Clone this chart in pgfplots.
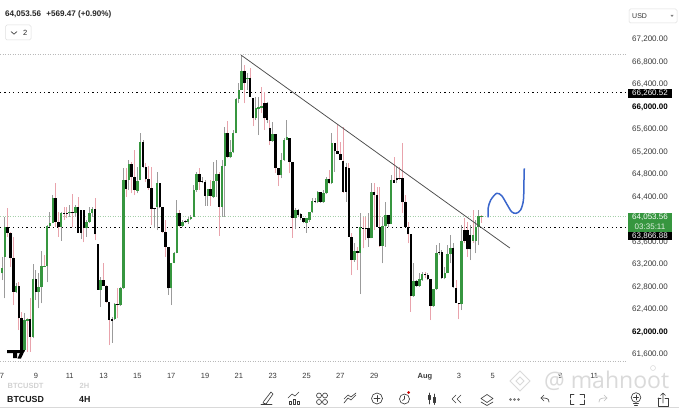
\documentclass[border=0pt]{standalone}
\usepackage{pgfplots}
\usepackage{pgfplotstable}
\usepackage{fontspec}
\setmainfont{Liberation Sans}
\newfontfamily\wmfont{Open Sans}
\pgfplotsset{compat=1.18}
\definecolor{cgreen}{HTML}{36963F}
\definecolor{cpink}{HTML}{E9A3AC}
\definecolor{cgray}{HTML}{9B9B9B}
\definecolor{tickc}{HTML}{3A3A3A}
\definecolor{wm}{HTML}{DADADA}
\definecolor{ic}{HTML}{3C3C3C}
% green candles, grey wicks
\pgfplotstableread{
x o h l c
0 63043 63339 62924 63132
1 63339 64050 62598 63872
5 62717 62865 62687 62818
8 61680 62332 61650 62213
11 61917 63209 61887 62942
13 62717 63043 62421 62794
14 62794 63446 62509 63173
16 63173 63902 62883 63884
17 63884 64139 63872 63943
18 63943 64435 63932 64376
21 63872 64139 63618 64109
24 64115 64258 64050 64127
26 64121 64258 64050 64228
30 63843 63991 63695 63961
31 63961 64228 63932 64121
32 64121 64228 64050 64181
35 62747 62983 62450 62924
40 62225 62509 62213 62492
42 62480 62806 62462 62776
43 62776 64909 62758 64702
45 64702 65058 64524 64986
48 64512 64939 64465 64690
49 64702 65532 64702 65372
55 64216 64838 63813 64643
60 62776 63232 62480 63232
61 63232 63428 63221 63398
62 63398 64347 63398 64109
64 63890 63991 63872 63961
66 63961 64038 63920 64003
67 64003 64080 63991 64050
68 64050 64613 64050 64524
69 64524 64850 64495 64803
73 64418 64536 64246 64536
75 64406 65028 64376 64690
76 64690 65058 64406 64809
78 64228 65058 64050 64951
79 64951 65638 64050 65544
81 65105 65413 65087 65206
82 65206 65591 65176 65532
83 65532 66154 65532 66136
84 66136 66421 66065 66302
85 66302 66924 66302 66646
87 66492 66598 66302 66521
90 65798 66184 65769 65976
91 65964 66184 65502 66006
96 65395 65739 65384 65514
99 64791 65176 64732 65058
100 65058 65443 65040 65413
101 65413 65769 65413 65461
104 64032 64198 63825 64169
108 63943 64021 63766 64021
109 63991 64139 63961 64127
110 64127 64376 64109 64335
112 64317 64512 64287 64495
114 64305 64524 64299 64465
115 64465 64761 64453 64714
117 64643 65532 64631 65354
125 63280 63576 63250 63440
127 63410 64109 62675 63861
131 63665 64643 63665 64483
135 63529 64050 63221 63884
136 63884 64317 63517 64080
138 63920 64791 63920 64702
146 62640 63232 62628 62912
148 62818 63043 62806 62936
149 62924 63072 62912 63025
153 62462 62770 62450 62770
154 62758 63546 62747 63398
157 62954 63161 62936 63043
158 63043 63546 63043 63380
159 63380 63724 63221 63499
163 62492 63902 62391 63624
168 63624 63991 63398 63872
169 63861 64169 63546 64062
}\GG
% green candles, pink wicks
\pgfplotstableread{
x o h l c
9 62201 62243 61650 62225
15 63161 63369 63161 63179
92 65976 66361 65887 66024
167 63624 64169 63576 63724
170 64040 64080 63944 64053.56
}\GP
% black candles, grey wicks
\pgfplotstableread{
x o h l c
12 62942 63102 62569 62717
28 64169 64169 63653 63766
34 63564 63564 62747 62747
39 62225 62272 61810 62201
50 65372 65413 64909 64939
54 64198 64198 63843 64187
56 64643 64643 64198 64216
59 63517 63517 62658 62776
65 63973 63991 63932 63955
71 64684 64761 64643 64667
72 64672 64702 64246 64418
94 66077 66095 65710 65769
105 64169 64181 64050 64080
106 64092 64109 63991 64021
107 64021 64032 63932 63961
111 64329 64376 64287 64317
113 64495 64495 64299 64317
118 65354 65354 64850 65224
122 64927 64998 64317 64495
130 63843 64109 63517 63665
137 64080 64080 63872 63920
140 64732 64939 64643 64702
147 62912 62924 62794 62818
151 63013 63043 62924 62942
155 63416 63576 63369 63398
156 63428 63458 62948 62966
160 63499 63576 62776 62794
166 63724 63902 63280 63469
}\DG
% black candles, pink wicks
\pgfplotstableread{
x o h l c
2 63861 64198 63695 63766
3 63766 63784 63161 63309
4 63309 63695 62480 62717
6 62824 62895 62035 62243
7 62243 62361 61650 61680
10 62225 62598 61650 61917
19 64376 64643 63872 63961
20 63961 64139 63695 63872
22 64109 64228 63991 64097
23 64121 64228 64021 64097
25 64127 64447 63872 64109
27 64228 64394 63754 63766
29 64169 64169 63594 63843
33 64181 64376 63635 63736
36 62924 63221 62818 62818
37 62818 62835 62509 62539
38 62539 62539 61769 62213
41 62492 62776 62243 62480
44 64702 64909 64406 64536
46 64986 65028 64465 64750
47 64750 65235 64435 64524
51 64939 65010 64672 64714
52 64714 64951 64524 64566
53 64566 64939 63902 64187
57 64216 64216 63766 63784
58 63784 63991 63339 63517
63 64109 64169 63872 63890
70 64803 64921 64524 64672
74 64536 64702 64246 64418
77 64809 64850 63712 64228
80 65544 65757 65087 65117
86 66646 66747 66065 66421
88 66510 66699 66172 66184
89 66154 66154 65662 65798
93 66077 66272 65591 65798
95 65621 65769 65324 65395
97 65514 65514 64821 64921
98 64909 64909 64595 64791
102 65455 65455 64821 65028
103 65016 65028 63677 64033
116 64714 64880 64631 64643
119 65224 65680 65164 65164
120 65164 65384 65058 65058
121 65046 65650 64477 64495
123 64921 64998 63695 63695
124 63695 63754 63013 63280
126 63440 63517 63102 63410
128 63855 64050 63487 63837
129 63855 64050 63635 63825
132 64483 64643 63813 64435
133 64435 64584 63861 63872
134 63872 64584 63517 63529
139 64702 65105 64643 64655
141 64744 64939 64702 64732
142 64732 65354 64109 64305
143 64305 64435 63872 63872
144 63872 63961 63576 63736
145 63736 63736 62361 62640
150 63025 63072 62954 63007
152 62942 62942 62213 62462
161 62776 62924 62509 62521
162 62521 62521 62225 62492
164 63813 64021 63576 63618
165 63813 63961 63339 63469
}\DP
\newcommand{\wick}[2]{\addplot[draw=none,mark=none,forget plot,error bars/.cd,y dir=plus,y explicit,error mark=none,error bar style={line width=0.9pt,color=#2}] table[x=x,y=l,y error plus expr=\thisrow{h}-\thisrow{l}] {#1};}
\newcommand{\bodyup}[1]{\addplot[draw=none,mark=none,forget plot,error bars/.cd,y dir=plus,y explicit,error mark=none,error bar style={line width=2.5pt,color=cgreen}] table[x=x,y=o,y error plus expr=\thisrow{c}-\thisrow{o}] {#1};}
\newcommand{\bodydn}[1]{\addplot[draw=none,mark=none,forget plot,error bars/.cd,y dir=plus,y explicit,error mark=none,error bar style={line width=2.5pt,color=black}] table[x=x,y=c,y error plus expr=\thisrow{o}-\thisrow{c}] {#1};}
\begin{document}
\begin{tikzpicture}[x=1pt,y=1pt]
\useasboundingbox (0,0) rectangle (679,408);
\fill[white] (0,0) rectangle (679,408);
\begin{axis}[
  at={(0pt,46pt)},anchor=south west,scale only axis,width=627pt,height=334pt,
  xmin=-0.709,xmax=221.63,ymin=61466.7,ymax=67404.6,
  axis line style={draw=none},major tick length=0pt,
  ytick={61600,62400,62800,63200,63600,64000,64400,64800,65200,65600,66400,66800,67200},
  extra y ticks={62000,66000},
  extra y tick style={yticklabel style={font=\fontsize{8}{9}\selectfont\bfseries,text=black}},
  yticklabel pos=right,scaled y ticks=false,
  /pgf/number format/fixed,/pgf/number format/fixed zerofill,/pgf/number format/precision=2,
  /pgf/number format/1000 sep={,},/pgf/number format/assume math mode=true,
  yticklabel style={anchor=west,xshift=3pt,inner xsep=2pt,font=\fontsize{8}{9}\selectfont,text=tickc},
  xtick={0,12,24,36,48,60,72,84,96,108,120,132,150,162,174,198,210},
  xticklabels={7,9,11,13,15,17,19,21,23,25,27,29,\textbf{Aug},3,5,9,11},
  xticklabel style={font=\fontsize{7.5}{8}\selectfont,text=tickc,yshift=-7.5pt},
]
\addplot[gray!55,line width=0.5pt,dotted,forget plot] coordinates {(-0.709,66930) (221.63,66930)};
\addplot[gray!55,line width=0.5pt,dotted,forget plot] coordinates {(-0.709,61480) (221.63,61480)};
\addplot[cgreen!45,line width=0.5pt,dotted,forget plot] coordinates {(-0.709,64053.56) (221.63,64053.56)};
\addplot[black,line width=0.9pt,dash pattern=on 1.1pt off 3.3pt,forget plot] coordinates {(-0.709,66260.52) (221.63,66260.52)};
\addplot[black,line width=0.9pt,dash pattern=on 1.1pt off 3.3pt,forget plot] coordinates {(-0.709,63866.88) (221.63,63866.88)};
\wick{\GG}{cgray}
\wick{\DG}{cgray}
\wick{\GP}{cpink}
\wick{\DP}{cpink}
\bodyup{\GG}
\bodyup{\GP}
\bodydn{\DG}
\bodydn{\DP}
\addplot[black!70,line width=0.75pt,forget plot] coordinates {(84.75,66924) (180.1,63493)};
\addplot[color={rgb,255:red,58;green,102;blue,204},line width=1.5pt,smooth,forget plot] coordinates {
(172.4,64039) (172.4,64204) (173.3,64346) (175.4,64466) (177.2,64423) (179.0,64275)
(180.7,64138) (182.3,64110) (183.9,64169) (184.9,64346) (185.1,64702) (185.2,64910)};
\end{axis}
% price tags
\def\tagfont{\fontsize{8}{9}\selectfont}
\fill[black] (628,310) rectangle (672,319.5);
\node[white,font=\tagfont] at (650,314.7) {66,260.52};
\fill[cgreen] (628,176.5) rectangle (672,195);
\node[white,font=\tagfont] at (650,190.3) {64,053.56};
\node[white!85!cgreen,font=\tagfont] at (650,181) {03:35:11};
\fill[black] (628,168) rectangle (672,176.5);
\node[white,font=\tagfont] at (650,172.2) {63,866.88};
% USD box
\draw[gray!25,line width=0.5pt,rounded corners=1.5pt] (629,385) rectangle (677,399);
\node[anchor=west,inner sep=0,text=black!80,font=\fontsize{7}{8}\selectfont] at (632,392) {USD};
\fill[gray] (670.5,393) -- (673.5,393) -- (672,391) -- cycle;
% header
\node[anchor=west,inner sep=0,text=black!85,font=\fontsize{8.1}{9}\selectfont\bfseries] at (5,393.7) {64,053.56\hspace{3pt} +569.47 (+0.90\%)};
\draw[gray!25,line width=0.5pt,rounded corners=1.5pt] (5.5,368) rectangle (31,383);
\draw[black!80,line width=0.6pt] (11,376.5) -- (14,373.8) -- (17,376.5);
\node[anchor=west,inner sep=0,text=black!85,font=\fontsize{7.5}{8}\selectfont] at (23,375.2) {2};
% TV logo
\fill[black] (7,58) -- (17,58) -- (17,50) -- (13.2,50) -- (13.2,55) -- (7,55) -- cycle;
\fill[black] (16.5,58) -- (25,58) -- (21,49.5) -- (17.5,49.5) -- (20,55) -- (16.5,55) -- cycle;
% watermark
\begin{scope}[wm,line width=1pt]
\draw (520,37) -- (530,27) -- (520,17) -- (510,27) -- cycle;
\draw (520,31) -- (524,27) -- (520,23) -- (516,27) -- cycle;
\end{scope}
\node[anchor=west,inner sep=0,text=wm,font=\wmfont\fontsize{23}{24}\selectfont] at (544,27) {@ mahnoot};
\draw[wm,line width=0.5pt] (653,40) circle (2.5);
% bottom bar
\node[anchor=west,inner sep=0,text=gray!35,font=\fontsize{7.5}{8}\selectfont\bfseries] at (7.5,22.3) {BTCUSDT};
\node[anchor=west,inner sep=0,text=gray!35,font=\fontsize{7.5}{8}\selectfont\bfseries] at (79.5,22.3) {2H};
\node[anchor=west,inner sep=0,text=black!90,font=\fontsize{8.8}{9}\selectfont\bfseries] at (7,9) {BTCUSD};
\node[anchor=west,inner sep=0,text=black!90,font=\fontsize{8.8}{9}\selectfont\bfseries] at (79,9) {4H};
\fill[gray!30] (0,0) rectangle (679,0.8);
% toolbar icons
\begin{scope}[ic,line width=0.65pt,line cap=round,line join=round]
\draw (263,5) -- (266,4) -- (273,14) -- (271,16) -- (264,7) -- cycle; \draw (261,3.5) -- (272,3.5);
\draw (289,4) rectangle (291,7) (293,4) rectangle (295,9) (297,4) rectangle (299,7); \draw (288,10) -- (292,14) -- (295,12) -- (299,16);
\draw (319,12.5) circle (2.5) (325,12.5) circle (2.5) (319,6) circle (2.5) (325,6) circle (2.5);
\draw (344,5) -- (348,10) -- (351,8) -- (356,13) (344,9) -- (348,13) -- (351,11) -- (356,15);
\draw (377,9.5) circle (5.5); \draw (374,9.5) -- (380,9.5) (377,6.5) -- (377,12.5);
\draw (404.5,9) circle (5); \draw (404.5,12) -- (404.5,9) -- (402.5,7.5); \fill[red!80!black] (408.5,15.5) circle (1.5);
\draw (428,9) rectangle (430,13) (433,6) rectangle (435,11); \draw (429,4) -- (429,15) (434,3.5) -- (434,14);
\draw (456,5) -- (452,9) -- (456,13) (461,5) -- (457,9) -- (461,13);
\draw (487,13.5) -- (493,9.5) -- (487,5.5) -- (481,9.5) -- cycle; \draw (481,6) -- (487,2.5) -- (493,6);
\draw (510.5,8.5) circle (1) (514.5,8.5) circle (1) (518.5,8.5) circle (1);
\draw (549,6) .. controls (549,10) and (546,10) .. (541,10); \draw (544,13) -- (541,10) -- (544,7);
\draw (570,10) -- (570,14) -- (574,14) (580,14) -- (584,14) -- (584,10) (570,8) -- (570,4) -- (574,4) (580,4) -- (584,4) -- (584,8);
\draw[gray!50] (599,6) .. controls (599,10) and (602,10) .. (607,10); \draw[gray!50] (604,13) -- (607,10) -- (604,7);
\draw (636,10.5) circle (4.8); \draw (633.5,10.5) -- (638.5,10.5) (636,8) -- (636,13); \draw (633.5,4.5) -- (638.5,4.5) (634.5,3) -- (637.5,3);
\draw (658,10) -- (658,1.2) -- (668,1.2) -- (668,10) -- (665,10) (661,10) -- (658,10); \draw (663,5) -- (663,14.5) (660.5,12.5) -- (663,15) -- (665.5,12.5);
\end{scope}
\end{tikzpicture}
\end{document}
